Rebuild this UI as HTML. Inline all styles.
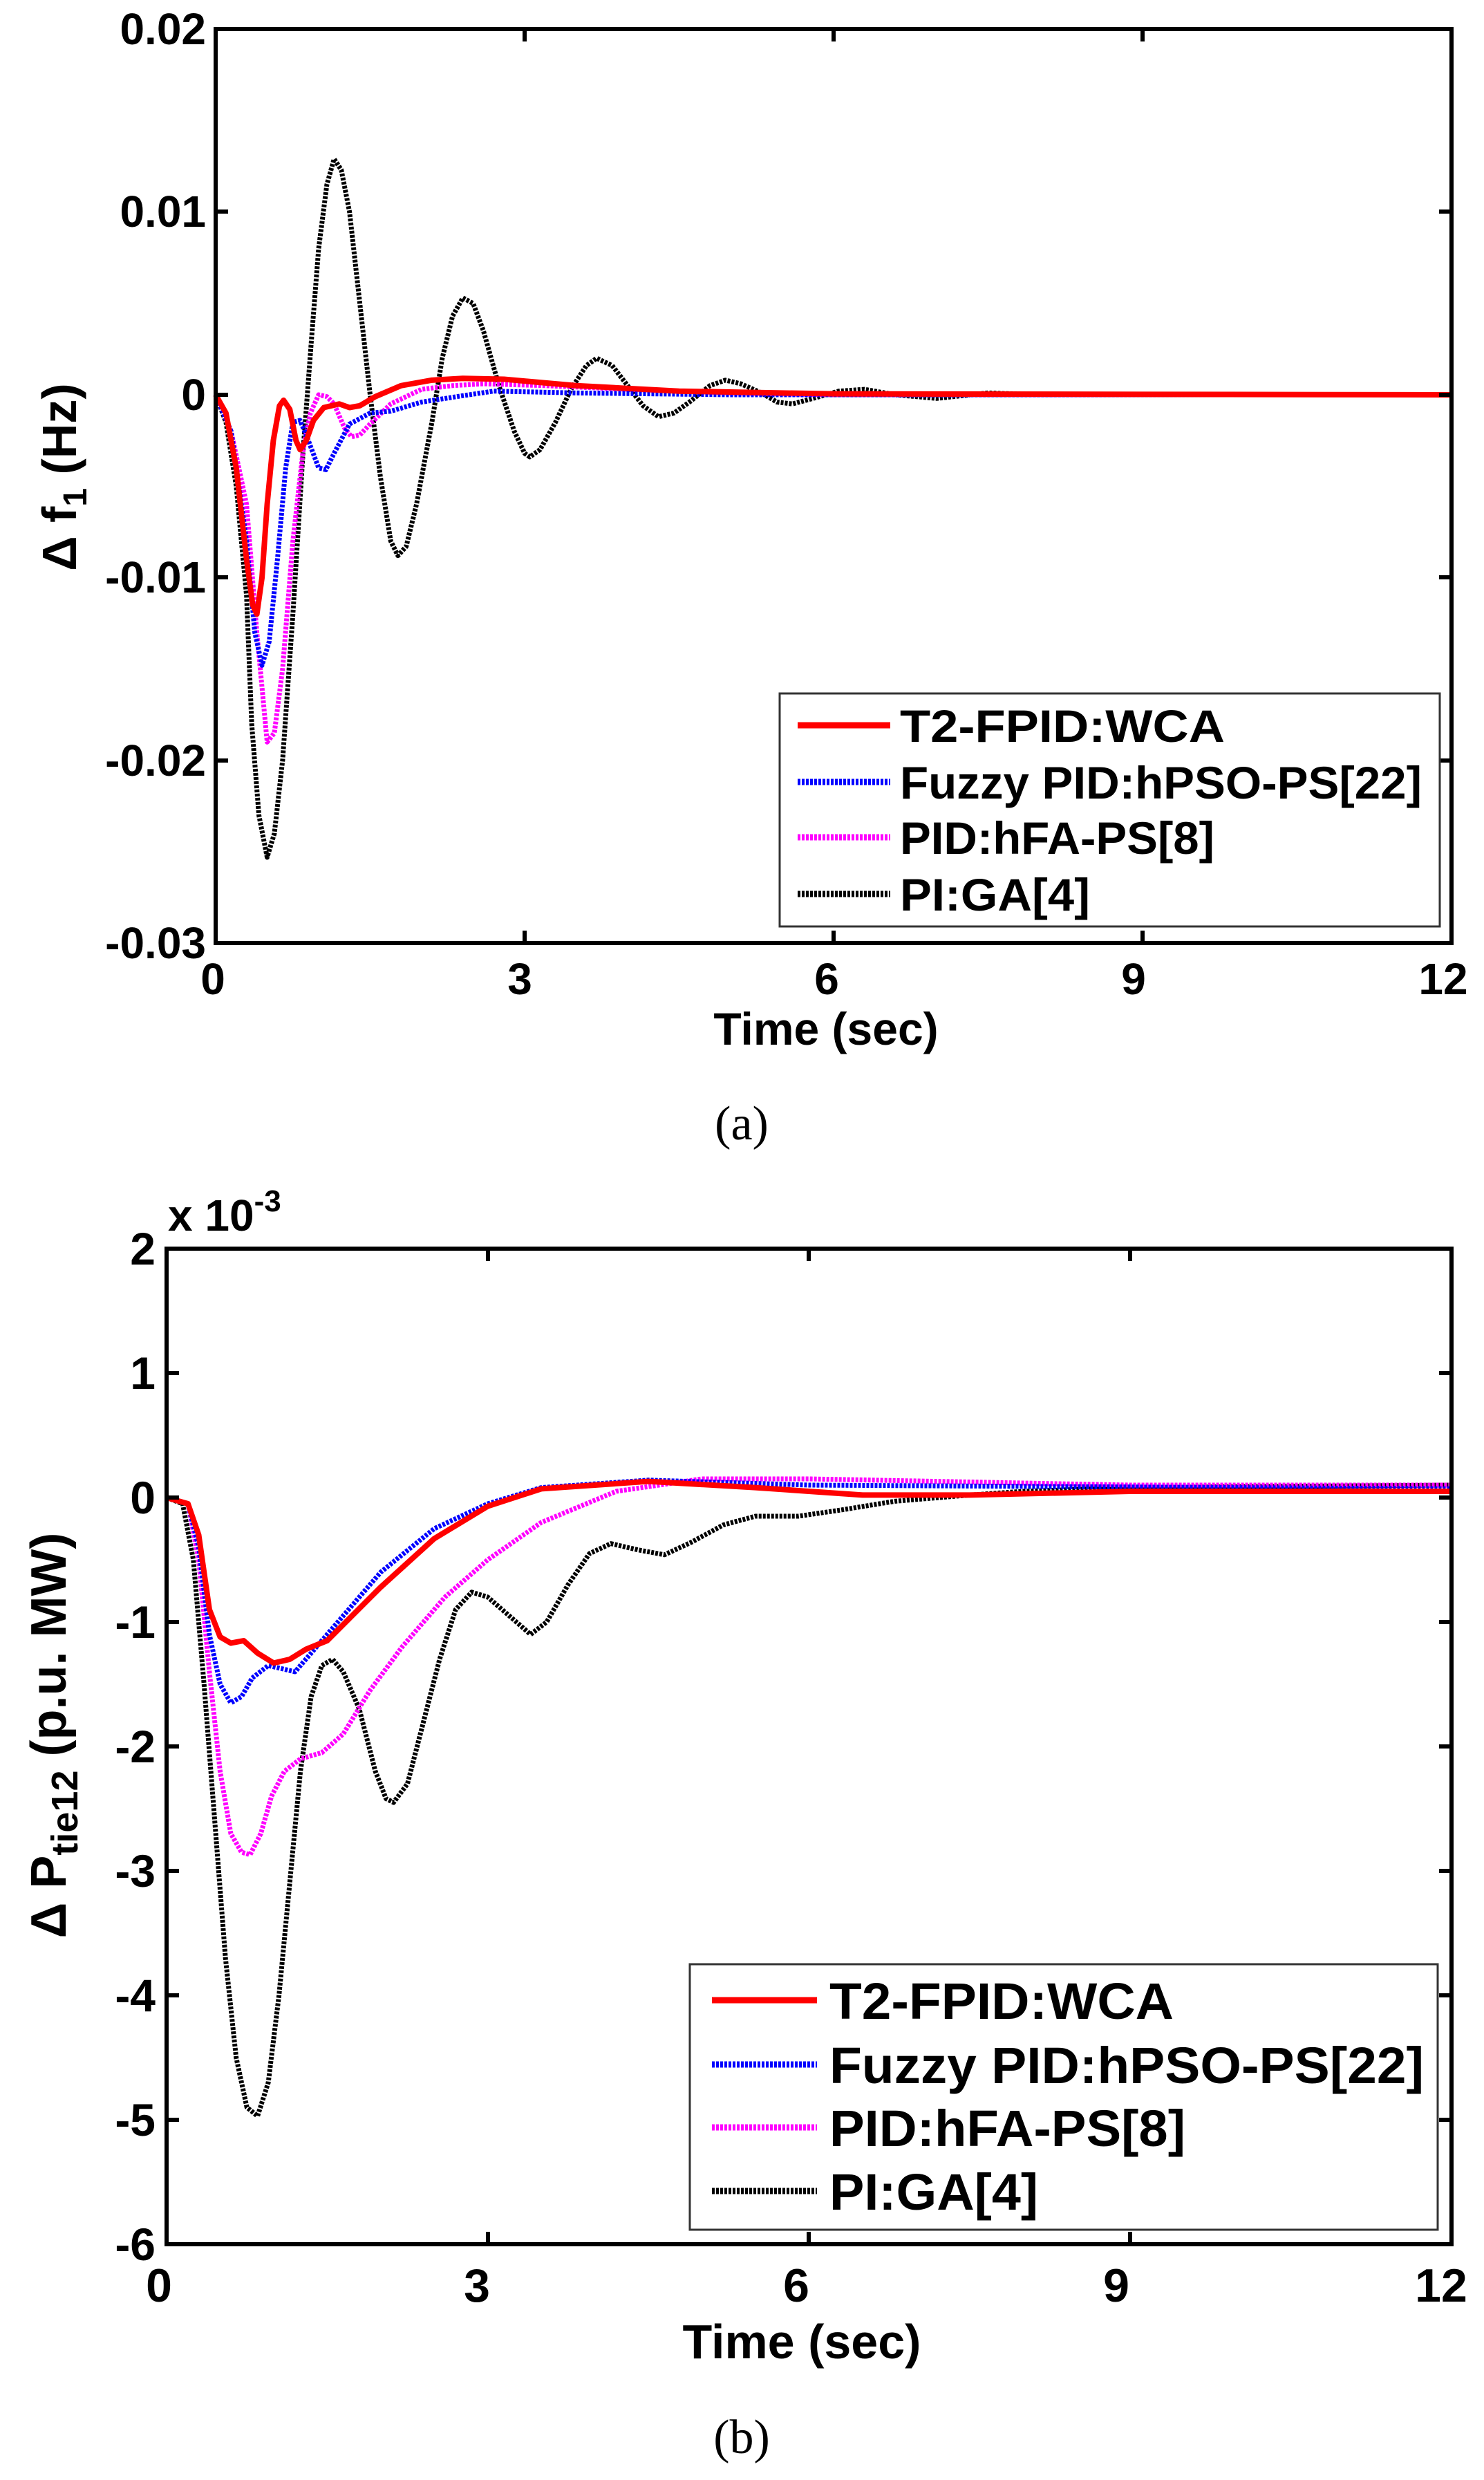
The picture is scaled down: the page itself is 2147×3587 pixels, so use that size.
<!DOCTYPE html>
<html><head><meta charset="utf-8"><style>
html,body{margin:0;padding:0;background:#fff}
svg{display:block}
text{font-family:"Liberation Sans",Arial,sans-serif;font-weight:bold;fill:#000}
.c{font-family:"Liberation Serif",serif;font-weight:normal}
</style></head><body>
<svg width="2147" height="3587" viewBox="0 0 2147 3587" xmlns="http://www.w3.org/2000/svg">
<rect width="2147" height="3587" fill="#fff"/>

<!-- ===== Plot (a) ===== -->
<g fill="none" stroke-linejoin="round" stroke-linecap="butt">
<g transform="translate(312,571) scale(149,-26.44)">
<polyline vector-effect="non-scaling-stroke" stroke="#000" stroke-width="7" stroke-dasharray="4 2" points="0,0 0.1,-1.5 0.2,-5 0.3,-11 0.35,-18 0.42,-23 0.5,-25.3 0.57,-24 0.65,-20 0.75,-12 0.85,-3 0.93,3 1.0,8 1.08,11.5 1.15,12.9 1.22,12.3 1.3,10 1.4,5 1.5,0 1.6,-4.5 1.7,-8 1.77,-8.8 1.85,-8.3 1.95,-6 2.1,-1.5 2.2,2 2.3,4.3 2.4,5.3 2.5,5 2.6,3.5 2.75,0.5 2.9,-2 3.0,-3.2 3.05,-3.4 3.15,-3 3.3,-1.5 3.45,0.3 3.6,1.6 3.7,2 3.85,1.6 4.0,0.5 4.15,-0.6 4.3,-1.2 4.45,-1 4.6,-0.4 4.8,0.5 4.95,0.8 5.1,0.6 5.3,0.1 5.45,-0.4 5.6,-0.5 5.8,-0.2 6.05,0.2 6.3,0.3 6.6,0 7.0,-0.2 7.5,0.1 8,0 12,0"/>
<polyline vector-effect="non-scaling-stroke" stroke="#ff00ff" stroke-width="7" stroke-dasharray="4 2" points="0,0 0.15,-2 0.3,-6 0.4,-13 0.5,-19 0.57,-18.5 0.65,-15 0.75,-8 0.85,-3 0.92,-1 1.0,0 1.08,-0.1 1.15,-0.5 1.25,-1.8 1.32,-2.3 1.4,-2.2 1.5,-1.6 1.7,-0.5 2.0,0.3 2.3,0.5 2.6,0.6 3.2,0.5 4.0,0.3 4.5,0.2 5,0.1 6,0 12,0"/>
<polyline vector-effect="non-scaling-stroke" stroke="#0000ff" stroke-width="7" stroke-dasharray="4 2" points="0,0 0.15,-2 0.3,-8 0.38,-13 0.45,-14.8 0.52,-13.5 0.6,-9 0.68,-4 0.75,-1.5 0.82,-1.4 0.9,-2.5 1.0,-4 1.07,-4.1 1.15,-3.2 1.3,-1.6 1.5,-1 1.7,-0.9 2,-0.4 2.4,-0.05 2.7,0.2 3.5,0.1 5,0 12,0"/>
<polyline vector-effect="non-scaling-stroke" stroke="#ff0000" stroke-width="8" points="0,0 0.1,-1 0.2,-4 0.3,-9 0.36,-11.5 0.4,-12 0.45,-10 0.5,-6 0.56,-2.5 0.62,-0.6 0.66,-0.3 0.72,-0.8 0.78,-2.5 0.82,-3 0.88,-2.5 0.95,-1.4 1.05,-0.7 1.2,-0.5 1.3,-0.7 1.4,-0.6 1.55,-0.1 1.8,0.5 2.1,0.8 2.4,0.9 2.8,0.85 3.5,0.5 4.5,0.2 6,0.05 12,0"/>
</g>
</g>
<rect x="312" y="42" width="1788" height="1322" fill="none" stroke="#000" stroke-width="6"/>
<g stroke="#000" stroke-width="6">
<line x1="759" y1="1364" x2="759" y2="1346"/><line x1="1206" y1="1364" x2="1206" y2="1346"/><line x1="1653" y1="1364" x2="1653" y2="1346"/>
<line x1="759" y1="42" x2="759" y2="60"/><line x1="1206" y1="42" x2="1206" y2="60"/><line x1="1653" y1="42" x2="1653" y2="60"/>
<line x1="312" y1="306" x2="330" y2="306"/><line x1="312" y1="571" x2="330" y2="571"/><line x1="312" y1="835" x2="330" y2="835"/><line x1="312" y1="1100" x2="330" y2="1100"/>
<line x1="2100" y1="306" x2="2082" y2="306"/><line x1="2100" y1="571" x2="2082" y2="571"/><line x1="2100" y1="835" x2="2082" y2="835"/><line x1="2100" y1="1100" x2="2082" y2="1100"/>
</g>
<rect x="1128" y="1003" width="955" height="337" fill="#fff" stroke="#333" stroke-width="3"/>
<line x1="1154" y1="1049" x2="1288" y2="1049" stroke="#ff0000" stroke-width="9"/>
<line x1="1154" y1="1131" x2="1288" y2="1131" stroke="#0000ff" stroke-width="9" stroke-dasharray="4 2"/>
<line x1="1154" y1="1211" x2="1288" y2="1211" stroke="#ff00ff" stroke-width="9" stroke-dasharray="4 2"/>
<line x1="1154" y1="1293" x2="1288" y2="1293" stroke="#000" stroke-width="9" stroke-dasharray="4 2"/>
<g font-size="66">
<text x="1302" y="1073" textLength="470" lengthAdjust="spacingAndGlyphs">T2-FPID:WCA</text>
<text x="1302" y="1155" textLength="755" lengthAdjust="spacingAndGlyphs">Fuzzy PID:hPSO-PS[22]</text>
<text x="1302" y="1235" textLength="455" lengthAdjust="spacingAndGlyphs">PID:hFA-PS[8]</text>
<text x="1302" y="1317" textLength="275" lengthAdjust="spacingAndGlyphs">PI:GA[4]</text>
</g>
<g font-size="64" text-anchor="end">
<text x="298" y="64">0.02</text>
<text x="298" y="328">0.01</text>
<text x="298" y="593">0</text>
<text x="298" y="857">-0.01</text>
<text x="298" y="1122">-0.02</text>
<text x="298" y="1386">-0.03</text>
</g>
<g font-size="64" text-anchor="middle">
<text x="308" y="1438">0</text>
<text x="752" y="1438">3</text>
<text x="1196" y="1438">6</text>
<text x="1640" y="1438">9</text>
<text x="2088" y="1438">12</text>
<text x="1195" y="1511" font-size="66">Time (sec)</text>
</g>
<text transform="translate(110,690) rotate(-90)" font-size="70" text-anchor="middle">Δ f<tspan font-size="48" dy="15">1</tspan><tspan dy="-15"> (Hz)</tspan></text>
<text class="c" x="1073" y="1648" font-size="70" text-anchor="middle">(a)</text>

<!-- ===== Plot (b) ===== -->
<g fill="none" stroke-linejoin="round">
<g transform="translate(241,2166) scale(154.9,-180)">
<polyline vector-effect="non-scaling-stroke" stroke="#000" stroke-width="7" stroke-dasharray="4 2" points="0,0 0.15,-0.05 0.25,-0.5 0.35,-1.5 0.45,-2.6 0.55,-3.7 0.65,-4.5 0.75,-4.9 0.85,-4.97 0.95,-4.7 1.05,-4.0 1.15,-3.1 1.25,-2.2 1.35,-1.6 1.45,-1.35 1.55,-1.3 1.65,-1.4 1.8,-1.7 1.95,-2.2 2.05,-2.42 2.12,-2.45 2.25,-2.3 2.4,-1.8 2.55,-1.3 2.7,-0.9 2.85,-0.76 3.0,-0.8 3.2,-0.95 3.4,-1.1 3.55,-1.0 3.75,-0.7 3.95,-0.45 4.15,-0.37 4.4,-0.42 4.65,-0.46 4.9,-0.36 5.2,-0.22 5.5,-0.15 5.9,-0.15 6.3,-0.1 6.8,-0.03 7.5,0.02 8,0.05 9,0.08 12,0.1"/>
<polyline vector-effect="non-scaling-stroke" stroke="#ff00ff" stroke-width="7" stroke-dasharray="4 2" points="0,0 0.2,-0.05 0.3,-0.5 0.4,-1.4 0.5,-2.2 0.6,-2.7 0.7,-2.85 0.78,-2.87 0.88,-2.7 0.98,-2.4 1.1,-2.2 1.25,-2.1 1.45,-2.05 1.65,-1.9 1.9,-1.55 2.2,-1.2 2.6,-0.8 3,-0.5 3.5,-0.2 4.2,0.05 5,0.15 6,0.15 9,0.1 12,0.1"/>
<polyline vector-effect="non-scaling-stroke" stroke="#0000ff" stroke-width="7" stroke-dasharray="4 2" points="0,0 0.2,-0.05 0.3,-0.4 0.4,-1.1 0.5,-1.5 0.6,-1.65 0.7,-1.6 0.8,-1.45 0.95,-1.35 1.1,-1.38 1.2,-1.4 1.35,-1.25 1.6,-1.0 2,-0.6 2.5,-0.25 3,-0.05 3.5,0.08 4.5,0.14 6,0.1 12,0.07"/>
<polyline vector-effect="non-scaling-stroke" stroke="#ff0000" stroke-width="8" points="0,0 0.2,-0.05 0.3,-0.3 0.4,-0.9 0.5,-1.12 0.6,-1.17 0.72,-1.15 0.85,-1.25 1.0,-1.33 1.15,-1.3 1.3,-1.22 1.5,-1.15 2,-0.72 2.5,-0.33 3,-0.07 3.5,0.07 4.5,0.13 5.5,0.08 6.5,0.02 7.5,0.02 9,0.05 12,0.05"/>
</g>
</g>
<rect x="241" y="1806" width="1859" height="1440" fill="none" stroke="#000" stroke-width="6"/>
<g stroke="#000" stroke-width="6">
<line x1="706" y1="3246" x2="706" y2="3228"/><line x1="1170" y1="3246" x2="1170" y2="3228"/><line x1="1635" y1="3246" x2="1635" y2="3228"/>
<line x1="706" y1="1806" x2="706" y2="1824"/><line x1="1170" y1="1806" x2="1170" y2="1824"/><line x1="1635" y1="1806" x2="1635" y2="1824"/>
<line x1="241" y1="1986" x2="259" y2="1986"/><line x1="241" y1="2166" x2="259" y2="2166"/><line x1="241" y1="2346" x2="259" y2="2346"/><line x1="241" y1="2526" x2="259" y2="2526"/><line x1="241" y1="2706" x2="259" y2="2706"/><line x1="241" y1="2886" x2="259" y2="2886"/><line x1="241" y1="3066" x2="259" y2="3066"/>
<line x1="2100" y1="1986" x2="2082" y2="1986"/><line x1="2100" y1="2166" x2="2082" y2="2166"/><line x1="2100" y1="2346" x2="2082" y2="2346"/><line x1="2100" y1="2526" x2="2082" y2="2526"/><line x1="2100" y1="2706" x2="2082" y2="2706"/><line x1="2100" y1="2886" x2="2082" y2="2886"/><line x1="2100" y1="3066" x2="2082" y2="3066"/>
</g>
<rect x="998" y="2841" width="1082" height="384" fill="#fff" stroke="#333" stroke-width="3"/>
<line x1="1030" y1="2893" x2="1182" y2="2893" stroke="#ff0000" stroke-width="9"/>
<line x1="1030" y1="2986" x2="1182" y2="2986" stroke="#0000ff" stroke-width="9" stroke-dasharray="4 2"/>
<line x1="1030" y1="3077" x2="1182" y2="3077" stroke="#ff00ff" stroke-width="9" stroke-dasharray="4 2"/>
<line x1="1030" y1="3169" x2="1182" y2="3169" stroke="#000" stroke-width="9" stroke-dasharray="4 2"/>
<g font-size="74">
<text x="1200" y="2920" textLength="498" lengthAdjust="spacingAndGlyphs">T2-FPID:WCA</text>
<text x="1200" y="3013" textLength="860" lengthAdjust="spacingAndGlyphs">Fuzzy PID:hPSO-PS[22]</text>
<text x="1200" y="3104" textLength="515" lengthAdjust="spacingAndGlyphs">PID:hFA-PS[8]</text>
<text x="1200" y="3196" textLength="302" lengthAdjust="spacingAndGlyphs">PI:GA[4]</text>
</g>
<g font-size="66" text-anchor="end">
<text x="225" y="1829">2</text>
<text x="225" y="2009">1</text>
<text x="225" y="2189">0</text>
<text x="225" y="2369">-1</text>
<text x="225" y="2549">-2</text>
<text x="225" y="2729">-3</text>
<text x="225" y="2909">-4</text>
<text x="225" y="3089">-5</text>
<text x="225" y="3269">-6</text>
</g>
<text x="243" y="1780" font-size="64">x 10<tspan font-size="44" dy="-28">-3</tspan></text>
<g font-size="68" text-anchor="middle">
<text x="230" y="3329">0</text>
<text x="690" y="3329">3</text>
<text x="1152" y="3329">6</text>
<text x="1615" y="3329">9</text>
<text x="2085" y="3329">12</text>
<text x="1160" y="3411" font-size="70">Time (sec)</text>
</g>
<text transform="translate(95,2510) rotate(-90)" font-size="72" text-anchor="middle">Δ P<tspan font-size="54" dy="17">tie12</tspan><tspan dy="-17"> (p.u. MW)</tspan></text>
<text class="c" x="1073" y="3548" font-size="70" text-anchor="middle">(b)</text>
</svg>
</body></html>
